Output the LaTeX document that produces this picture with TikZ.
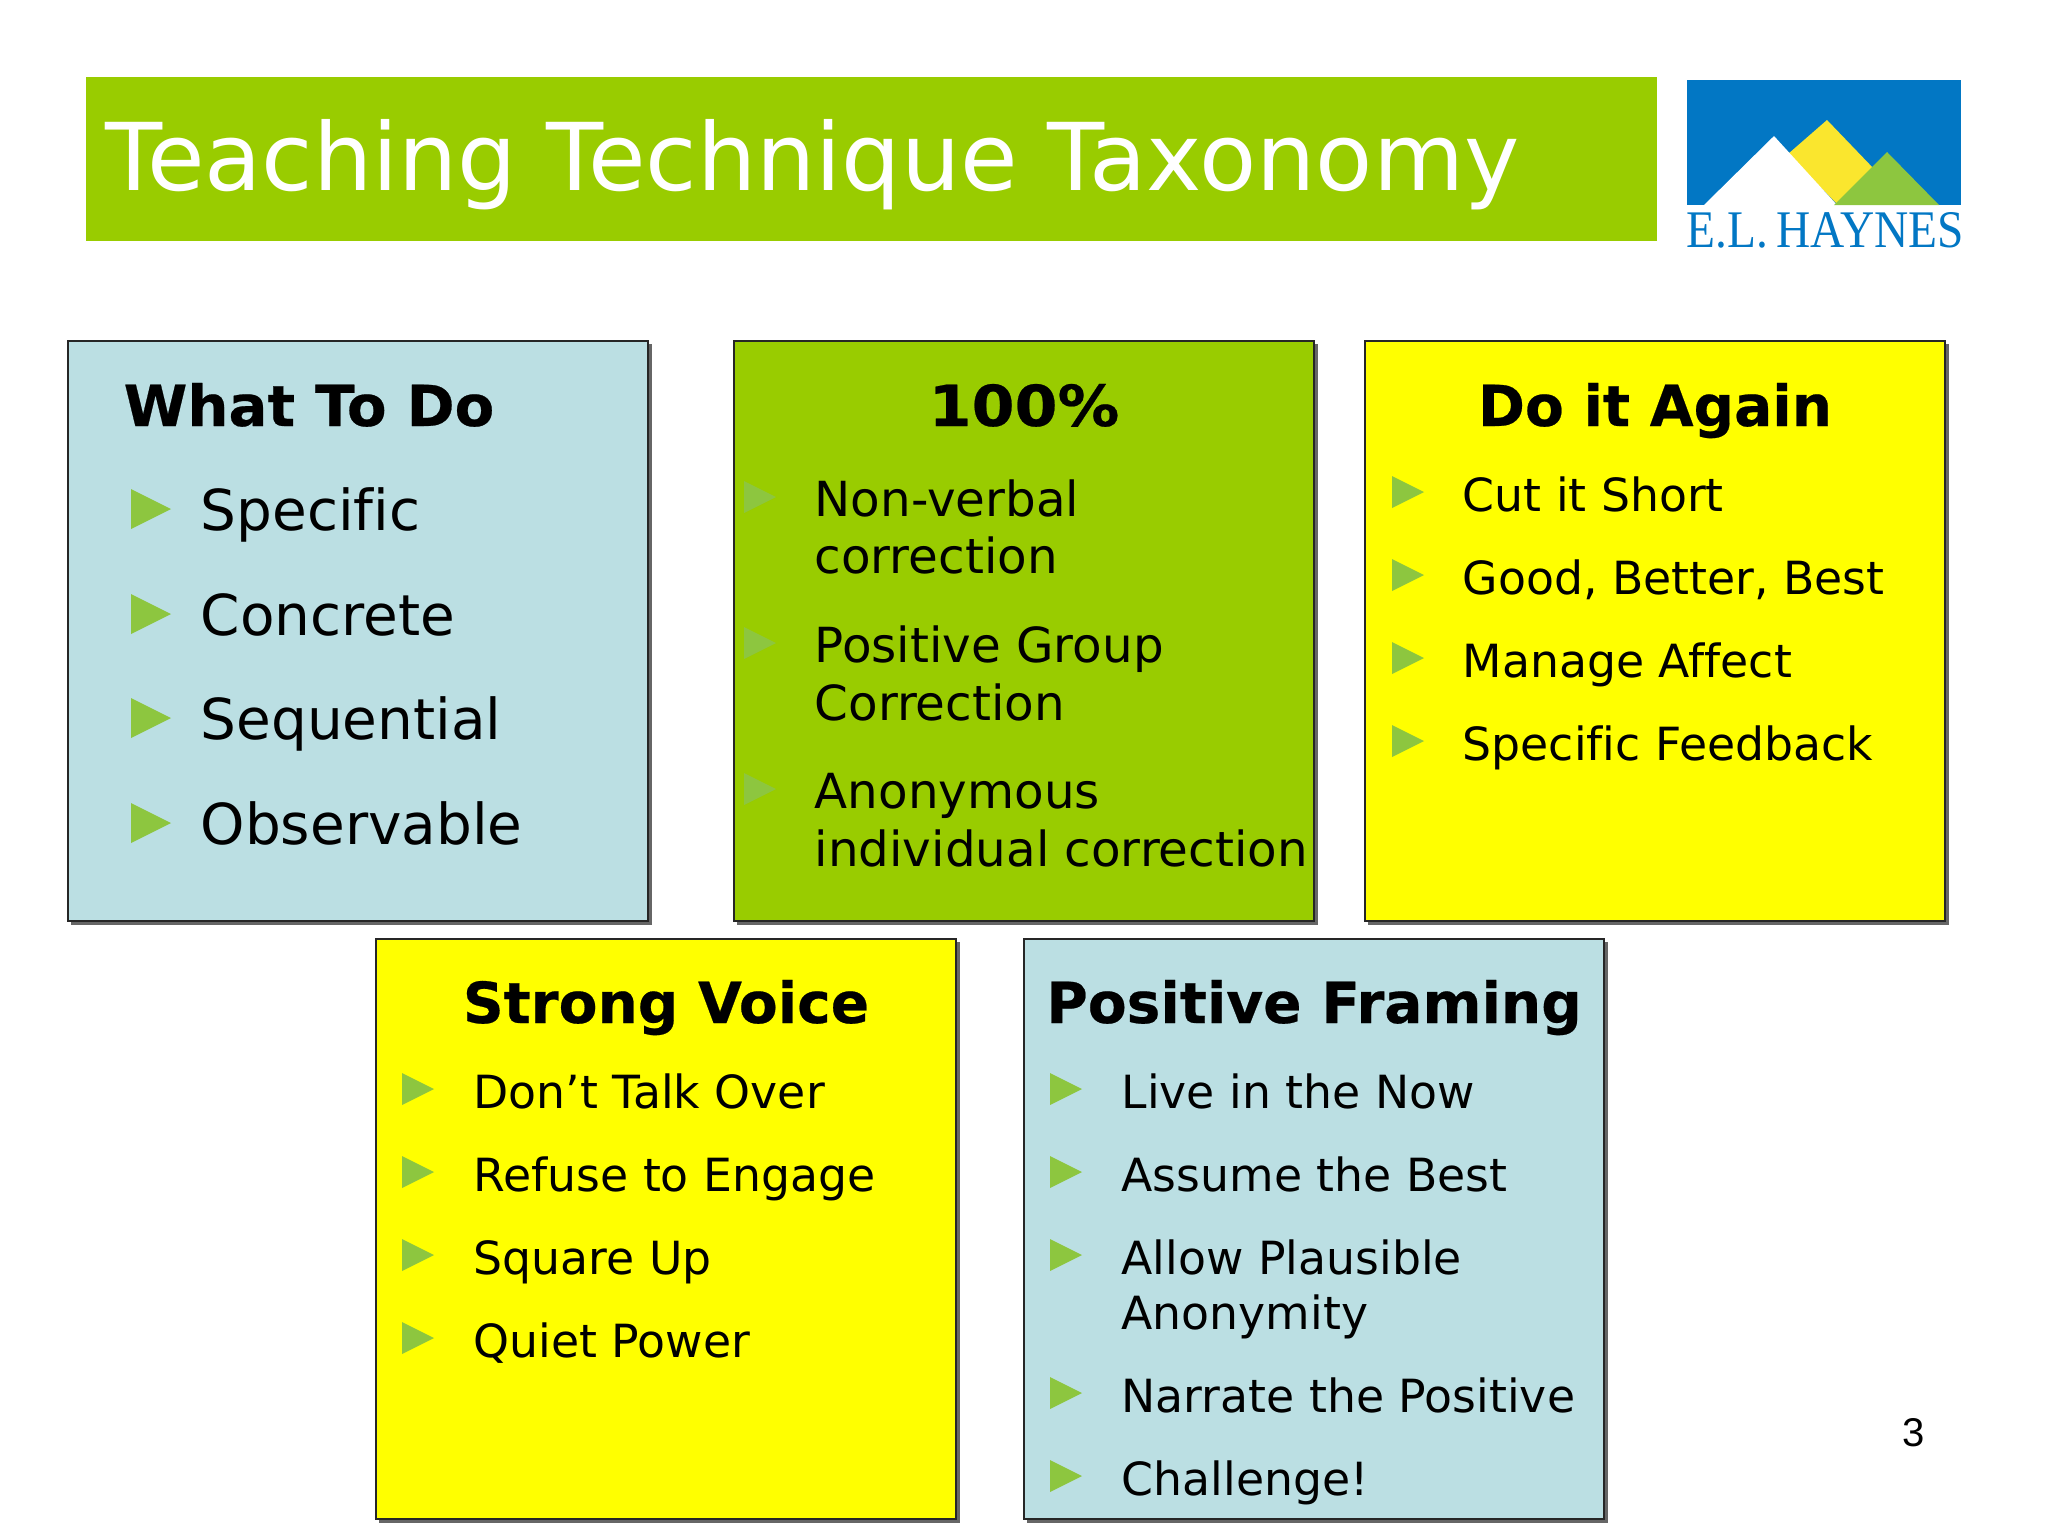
\documentclass[tikz,border=0pt]{standalone}
\usepackage{fontspec}
\setmainfont[Ligatures=NoCommon]{DejaVu Sans}
\newfontface\headfont[FakeBold=0.4,Ligatures=NoCommon]{DejaVu Sans Bold}
\newfontfamily\logofont{Liberation Serif}
\newfontfamily\numfont{Liberation Sans}
\usetikzlibrary{positioning, calc}
\definecolor{barGreen}{HTML}{99CC00}
\definecolor{paleBlue}{HTML}{BBDFE3}
\definecolor{boxYellow}{HTML}{FFFF00}
\definecolor{tickGreen}{HTML}{8DC63F}
\definecolor{logoBlue}{HTML}{0277C4}
\definecolor{logoYellow}{HTML}{FAE62E}
\tikzset{
  panel/.style={draw=black!85, line width=0.6pt, minimum width=5.8cm, minimum height=5.8cm, anchor=north west, inner sep=0pt},
  heading/.style={inner sep=0pt, font=\fontsize{16.1}{18}\headfont},
  big/.style={anchor=base west, inner sep=0pt, font=\fontsize{16.05}{18}\selectfont},
  mid/.style={anchor=base west, inner sep=0pt, font=\fontsize{13.75}{16}\selectfont},
  small/.style={anchor=base west, inner sep=0pt, font=\fontsize{13.0}{15}\selectfont},
}
% bullet: left x, centre y, half height
\newcommand{\tick}[3]{\fill[tickGreen] (#1,#2-#3) -- (#1+2*#3,#2) -- (#1,#2+#3) -- cycle;}
\begin{document}
\begin{tikzpicture}[x=0.01cm,y=-0.01cm]
\useasboundingbox (0,0) rectangle (2048,1536);
% Title bar
\node[fill=barGreen, minimum width=15.7cm, minimum height=1.64cm, anchor=north west, inner sep=0pt] (bar) at (85,76.5) {};
\node[anchor=base west, inner sep=0pt, text=white, font=\fontsize{26.6}{30}\selectfont] (title) at (105,190) {Teaching Technique Taxonomy};

% Logo
\fill[logoBlue] (1687,80) rectangle (1961,205);
\fill[logoYellow] (1827,120) -- (1788,154) -- (1838,205) -- (1875,170) -- cycle;
\fill[white] (1704,205) -- (1774,136) -- (1837,205) -- cycle;
\fill[tickGreen] (1834,205) -- (1887,152) -- (1939,205) -- cycle;
\node[anchor=base west, inner sep=0pt, text=logoBlue] (logotext) at (1686,247) {\logofont\resizebox{2.77cm}{0.35cm}{E.L.\,HAYNES}};

% Panels with shadow
\foreach \name/\px/\py/\col in {what/67/340/paleBlue, hundred/733/340/barGreen, again/1364/340/boxYellow, voice/375/938/boxYellow, framing/1023/938/paleBlue} {
    \fill[black!60] (\px+4,\py+4) rectangle +(581,581);
    \node[panel, fill=\col] (\name) at (\px,\py) {};
}

% What To Do
\node[heading, anchor=base west] (whathead) at (123,426) {\scalebox{1.02}[1]{What To Do}};
\foreach \i/\y/\txt in {1/530/Specific, 2/635/Concrete, 3/739/Sequential, 4/844/Observable} {
    \tick{131}{\y-21}{20}
    \node[big] (what\i) at (200,\y) {\txt};
}

% 100%
\node[heading, anchor=base] (hundredhead) at (1024,426) {\scalebox{1.09}[1]{100\%}};
\foreach \y in {516,662,808} {\tick{744}{\y-19}{16}}
\foreach \i/\y/\txt in {1/516/Non-verbal, 2/573/correction, 3/662/Positive Group, 4/720/Correction, 5/808/Anonymous, 6/866/individual correction} {
    \node[mid] (hundred\i) at (814,\y) {\txt};
}

% Do it Again
\node[heading, anchor=base] (againhead) at (1655,426) {Do it Again};
\foreach \i/\y/\txt in {1/511/Cut it Short, 2/594/{Good, Better, Best}, 3/677/Manage Affect, 4/760/Specific Feedback} {
    \tick{1392}{\y-19}{16}
    \node[small] (again\i) at (1462,\y) {\txt};
}

% Strong Voice
\node[heading, anchor=base] (voicehead) at (666,1023) {Strong Voice};
\foreach \i/\y/\txt in {1/1108/Don’t Talk Over, 2/1191/Refuse to Engage, 3/1274/Square Up, 4/1357/Quiet Power} {
    \tick{402}{\y-19}{16}
    \node[small] (voice\i) at (473,\y) {\txt};
}

% Positive Framing
\node[heading, anchor=base] (framinghead) at (1314,1023) {Positive Framing};
\foreach \y in {1108,1191,1274,1412,1495} {\tick{1050}{\y-19}{16}}
\foreach \i/\y/\txt in {1/1108/Live in the Now, 2/1191/Assume the Best, 3/1274/Allow Plausible, 4/1329/Anonymity, 5/1412/Narrate the Positive, 6/1495/Challenge!} {
    \node[small] (framing\i) at (1121,\y) {\txt};
}

% Slide number
\node[anchor=base, inner sep=0pt, font=\fontsize{11.4}{13}\selectfont] (pagenum) at (1914,1446) {\numfont 3};
\end{tikzpicture}
\end{document}
